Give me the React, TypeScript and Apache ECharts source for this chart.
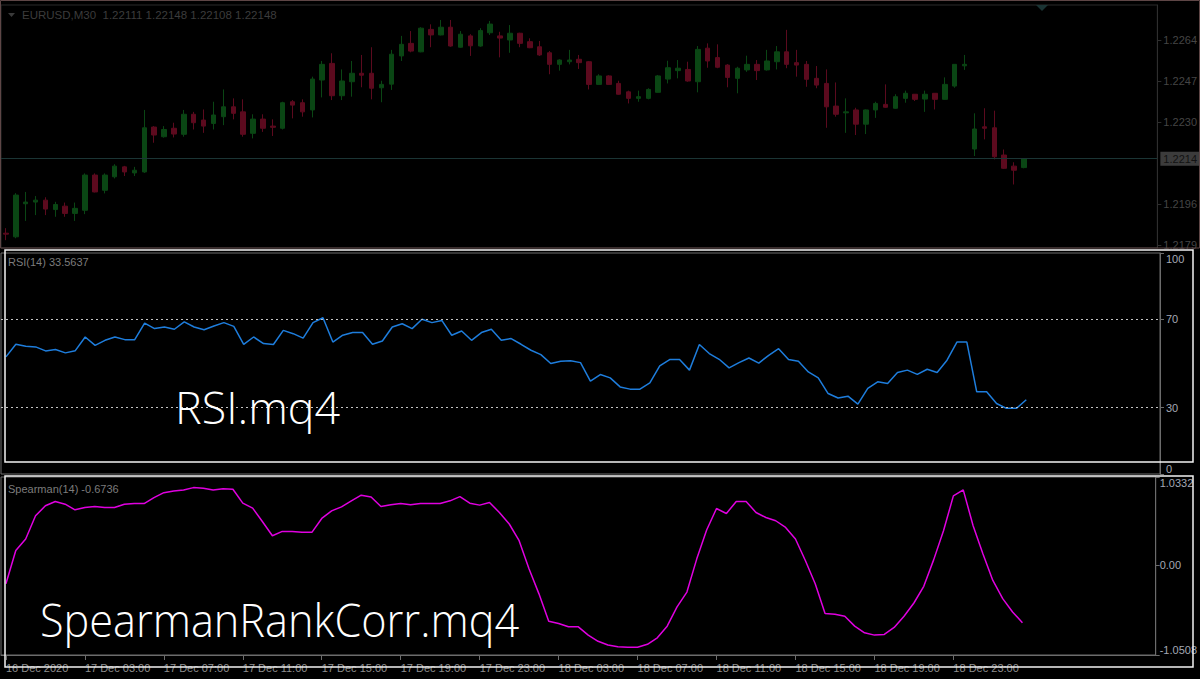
import React, { useEffect, useRef } from "react";
import * as echarts from "echarts";

// ---- price bars (EURUSD M30) ----
const opens = [1.21839,1.21824,1.21961,1.21968,1.21976,1.21937,1.21951,1.21921,1.21934,1.22080,1.22017,1.22073,1.22114,1.22089,1.22093,1.22279,1.22239,1.22274,1.22249,1.22332,1.22308,1.22294,1.22322,1.22363,1.22342,1.22253,1.22312,1.22283,1.22274,1.22384,1.22380,1.22350,1.22474,1.22543,1.22409,1.22467,1.22502,1.22502,1.22442,1.22457,1.22574,1.22626,1.22591,1.22684,1.22661,1.22693,1.22610,1.22657,1.22615,1.22670,1.22657,1.22640,1.22668,1.22633,1.22612,1.22587,1.22539,1.22550,1.22560,1.22550,1.22456,1.22491,1.22460,1.22425,1.22398,1.22398,1.22423,1.22478,1.22513,1.22518,1.22467,1.22606,1.22567,1.22536,1.22481,1.22516,1.22539,1.22516,1.22550,1.22591,1.22546,1.22539,1.22481,1.22460,1.22366,1.22338,1.22350,1.22291,1.22350,1.22373,1.22357,1.22398,1.22415,1.22395,1.22419,1.22394,1.22449,1.22533,1.22188,1.22280,1.22276,1.22163,1.22117,1.22111];
const closes = [1.21835,1.21997,1.21968,1.21976,1.21939,1.21958,1.21921,1.21942,1.22080,1.22010,1.22080,1.22117,1.22093,1.22100,1.22276,1.22246,1.22269,1.22250,1.22332,1.22297,1.22283,1.22329,1.22363,1.22336,1.22249,1.22312,1.22274,1.22278,1.22380,1.22370,1.22342,1.22478,1.22539,1.22409,1.22470,1.22502,1.22494,1.22440,1.22456,1.22581,1.22622,1.22594,1.22689,1.22661,1.22693,1.22615,1.22664,1.22616,1.22679,1.22706,1.22648,1.22668,1.22626,1.22608,1.22578,1.22539,1.22557,1.22557,1.22546,1.22456,1.22491,1.22456,1.22415,1.22398,1.22405,1.22435,1.22491,1.22525,1.22523,1.22470,1.22601,1.22553,1.22527,1.22485,1.22523,1.22539,1.22513,1.22553,1.22591,1.22539,1.22536,1.22477,1.22453,1.22363,1.22332,1.22342,1.22291,1.22350,1.22377,1.22361,1.22405,1.22419,1.22394,1.22415,1.22394,1.22456,1.22539,1.22539,1.22271,1.22274,1.22156,1.22108,1.22100,1.22148];
const lows = [1.21810,1.21818,1.21890,1.21914,1.21914,1.21907,1.21907,1.21890,1.21918,1.22008,1.22004,1.22066,1.22076,1.22076,1.22089,1.22214,1.22235,1.22236,1.22239,1.22269,1.22255,1.22269,1.22287,1.22311,1.22239,1.22232,1.22259,1.22242,1.22269,1.22315,1.22322,1.22319,1.22402,1.22391,1.22391,1.22405,1.22444,1.22394,1.22382,1.22433,1.22553,1.22589,1.22589,1.22610,1.22659,1.22612,1.22608,1.22574,1.22612,1.22661,1.22568,1.22587,1.22610,1.22606,1.22574,1.22498,1.22513,1.22539,1.22520,1.22435,1.22455,1.22455,1.22413,1.22377,1.22384,1.22394,1.22422,1.22460,1.22481,1.22467,1.22423,1.22525,1.22523,1.22444,1.22419,1.22508,1.22474,1.22513,1.22518,1.22523,1.22488,1.22446,1.22440,1.22276,1.22322,1.22255,1.22246,1.22250,1.22317,1.22359,1.22355,1.22380,1.22387,1.22342,1.22352,1.22393,1.22442,1.22516,1.22159,1.22228,1.22145,1.22105,1.22041,1.22108];
const highs = [1.21860,1.22005,1.22010,1.21993,1.21988,1.21969,1.21966,1.21966,1.22087,1.22087,1.22087,1.22125,1.22118,1.22114,1.22350,1.22283,1.22283,1.22297,1.22350,1.22342,1.22352,1.22384,1.22435,1.22398,1.22394,1.22332,1.22332,1.22311,1.22384,1.22391,1.22394,1.22488,1.22553,1.22585,1.22518,1.22553,1.22578,1.22610,1.22471,1.22599,1.22657,1.22677,1.22693,1.22705,1.22723,1.22723,1.22677,1.22664,1.22689,1.22719,1.22674,1.22702,1.22670,1.22647,1.22636,1.22594,1.22560,1.22599,1.22578,1.22553,1.22498,1.22494,1.22471,1.22430,1.22430,1.22440,1.22495,1.22554,1.22557,1.22550,1.22615,1.22626,1.22622,1.22540,1.22529,1.22575,1.22557,1.22599,1.22615,1.22682,1.22599,1.22553,1.22532,1.22518,1.22464,1.22398,1.22359,1.22352,1.22384,1.22456,1.22415,1.22430,1.22416,1.22430,1.22420,1.22485,1.22540,1.22578,1.22336,1.22357,1.22347,1.22186,1.22133,1.22148];

// ---- indicators ----
const rsi = [53.0,58.7,57.8,57.5,55.7,56.3,54.8,55.8,62.0,58.2,60.5,62.0,60.8,60.8,68.3,65.8,66.5,65.5,68.8,66.5,65.3,67.0,68.5,66.8,58.7,62.0,59.0,58.6,65.0,63.5,61.5,68.5,70.7,59.7,62.8,64.0,64.0,58.7,60.2,66.5,68.0,65.8,70.0,68.5,69.5,62.8,64.7,60.5,64.0,65.5,60.5,61.3,58.7,56.0,54.0,50.0,51.0,51.2,50.4,42.0,45.0,43.5,39.4,38.4,38.4,41.2,48.9,51.8,51.8,47.0,58.6,54.5,51.9,48.0,50.4,52.5,50.2,53.7,56.7,51.8,51.0,46.2,43.5,36.4,34.4,35.2,31.6,38.7,41.7,41.0,45.9,47.0,45.1,47.4,45.9,51.5,59.7,59.7,37.2,37.2,31.9,29.7,29.7,33.6];
const spearman = [-0.216,0.172,0.308,0.579,0.696,0.746,0.715,0.649,0.676,0.687,0.676,0.676,0.715,0.722,0.722,0.792,0.850,0.870,0.882,0.909,0.902,0.882,0.897,0.890,0.727,0.669,0.509,0.346,0.396,0.396,0.385,0.385,0.548,0.637,0.684,0.754,0.820,0.800,0.687,0.707,0.722,0.707,0.722,0.722,0.722,0.754,0.804,0.727,0.704,0.734,0.618,0.483,0.288,-0.041,-0.332,-0.655,-0.682,-0.721,-0.721,-0.818,-0.890,-0.934,-0.954,-0.961,-0.961,-0.926,-0.849,-0.713,-0.488,-0.314,0.075,0.413,0.664,0.606,0.746,0.746,0.618,0.559,0.521,0.443,0.308,0.055,-0.216,-0.565,-0.573,-0.597,-0.713,-0.791,-0.818,-0.810,-0.728,-0.597,-0.442,-0.247,0.063,0.404,0.812,0.882,0.463,0.133,-0.178,-0.391,-0.547,-0.674];

// ---- axes / labels ----
const timeLabels = ["16 Dec 2020","17 Dec 03:00","17 Dec 07:00","17 Dec 11:00","17 Dec 15:00","17 Dec 19:00","17 Dec 23:00","18 Dec 03:00","18 Dec 07:00","18 Dec 11:00","18 Dec 15:00","18 Dec 19:00","18 Dec 23:00"];
const BARS_PER_LABEL = 8;
const SLOTS = 117; // bars plus the empty chart shift on the right
const priceTicks = [1.2179, 1.2196, 1.2230, 1.2247, 1.2264];
const priceRange = [1.217776, 1.227851];
const lastPrice = 1.22148;
const lastPriceLabel = "1.2214";
const rsiTicks = [0, 30, 70, 100];
const rsiLevels = [30, 70];
const spearTicks = [-1.0508, 0, 1.0332];

const headerText = "EURUSD,M30  1.22111 1.22148 1.22108 1.22148";
const rsiTitle = "RSI(14) 33.5637";
const spearTitle = "Spearman(14) -0.6736";
const rsiNote = "RSI.mq4";
const spearNote = "SpearmanRankCorr.mq4";

const FONT = "'Liberation Sans', Arial, sans-serif";
const HAND = "'Open Sans', 'Noto Sans', sans-serif";

export default function App() {
  const ref = useRef<HTMLDivElement>(null);

  useEffect(() => {
    if (!ref.current) return;
    const chart = echarts.init(ref.current, undefined, { renderer: "svg" });
    const cats = Array.from({ length: SLOTS }, (_, i) => String(i));
    const candleData = opens.map((o, i) => [o, closes[i], lows[i], highs[i]]);
    const showLabel = (idx: number) =>
      idx % BARS_PER_LABEL === 0 && idx / BARS_PER_LABEL < timeLabels.length;

    const xAxes = [0, 1, 2].map((g) => ({
      type: "category",
      gridIndex: g,
      data: cats,
      boundaryGap: true,
      show: g === 2,
      axisLine: { show: true, onZero: false, lineStyle: { color: "#6c6c6c", width: 1 } },
      axisTick: {
        show: true,
        alignWithLabel: true,
        interval: (idx: number) => showLabel(idx),
        length: 5,
        lineStyle: { color: "#6c6c6c" },
      },
      axisLabel: {
        show: true,
        interval: (idx: number) => showLabel(idx),
        formatter: (v: string) => timeLabels[Number(v) / BARS_PER_LABEL] ?? "",
        align: "left",
        color: "#8e8e8e",
        fontSize: 11,
        fontFamily: FONT,
        margin: 7,
      },
      splitLine: { show: false },
    }));

    const option: any = {
      animation: false,
      backgroundColor: "#000000",
      grid: [
        { left: 1, right: 40, top: 5, height: 243, show: true, borderColor: "#2a2a2a", borderWidth: 1, backgroundColor: "transparent" },
        { left: 1, right: 40, top: 253, height: 221, show: true, borderColor: "#6c6c6c", borderWidth: 1, backgroundColor: "transparent" },
        { left: 1, right: 40, top: 477, height: 178, show: true, borderColor: "#6c6c6c", borderWidth: 1, backgroundColor: "transparent" },
      ],
      xAxis: xAxes,
      yAxis: [
        {
          type: "value",
          gridIndex: 0,
          position: "right",
          min: priceRange[0],
          max: priceRange[1],
          axisLine: { show: true, lineStyle: { color: "#2e2e2e" } },
          axisTick: { show: true, customValues: priceTicks, length: 4, lineStyle: { color: "#2e2e2e" } },
          axisLabel: { customValues: priceTicks, formatter: (v: number) => v.toFixed(4), color: "#454545", fontSize: 11, fontFamily: FONT, margin: 6 },
          splitLine: { show: false },
        },
        {
          type: "value",
          gridIndex: 1,
          position: "right",
          min: 0,
          max: 100,
          axisLine: { show: true, lineStyle: { color: "#6c6c6c" } },
          axisTick: { show: true, customValues: rsiTicks, length: 4, lineStyle: { color: "#6c6c6c" } },
          axisLabel: {
            customValues: rsiTicks,
            formatter: (v: number) => String(v),
            color: "#a4a8b4",
            fontSize: 11,
            fontFamily: FONT,
            margin: 6,
            verticalAlignMinLabel: "bottom",
            verticalAlignMaxLabel: "top",
          },
          splitLine: { show: false },
        },
        {
          type: "value",
          gridIndex: 2,
          position: "right",
          min: spearTicks[0],
          max: spearTicks[2],
          axisLine: { show: true, lineStyle: { color: "#6c6c6c" } },
          axisTick: { show: true, customValues: spearTicks, length: 4, lineStyle: { color: "#6c6c6c" } },
          axisLabel: {
            customValues: spearTicks,
            formatter: (v: number) => (v === 0 ? "0.00" : v.toFixed(4)),
            color: "#a4a8b4",
            fontSize: 11,
            fontFamily: FONT,
            margin: 4,
            verticalAlignMinLabel: "bottom",
            verticalAlignMaxLabel: "top",
          },
          splitLine: { show: false },
        },
      ],
      series: [
        {
          type: "candlestick",
          xAxisIndex: 0,
          yAxisIndex: 0,
          data: candleData,
          barWidth: 5,
          itemStyle: {
            color: "#0a4614",
            color0: "#5c0a1e",
            borderColor: "#0a4614",
            borderColor0: "#5c0a1e",
            borderWidth: 1,
          },
          markLine: {
            silent: true,
            precision: 5,
            symbol: ["none", "none"],
            lineStyle: { color: "#1b3535", type: "solid", width: 1 },
            label: {
              show: true,
              position: "end",
              distance: 3,
              formatter: lastPriceLabel,
              color: "#121212",
              backgroundColor: "#3c3c3c",
              padding: [2, 3, 1, 3],
              fontSize: 11,
              fontFamily: FONT,
            },
            data: [{ yAxis: lastPrice }],
          },
        },
        {
          type: "line",
          xAxisIndex: 1,
          yAxisIndex: 1,
          data: rsi,
          symbol: "none",
          showSymbol: false,
          lineStyle: { color: "#1e7ddc", width: 1.5 },
          markLine: {
            silent: true,
            precision: 2,
            symbol: ["none", "none"],
            label: { show: false },
            lineStyle: { color: "#c4c4c4", type: [2, 3], width: 1 },
            data: rsiLevels.map((v) => ({ yAxis: v })),
          },
        },
        {
          type: "line",
          xAxisIndex: 2,
          yAxisIndex: 2,
          data: spearman,
          symbol: "none",
          showSymbol: false,
          lineStyle: { color: "#e000e0", width: 1.5 },
        },
      ],
      graphic: [
        { type: "rect", z: 50, silent: true, shape: { x: 0.5, y: 0.5, width: 1199, height: 247.5 }, style: { fill: "none", stroke: "#5e4646", lineWidth: 1 } },
        { type: "polygon", z: 50, silent: true, shape: { points: [[8, 13], [15, 13], [11.5, 17]] }, style: { fill: "#3a3a3a" } },
        { type: "text", z: 50, silent: true, style: { text: headerText, x: 22, y: 15, fill: "#3c3c3c", font: `11.5px ${FONT}`, verticalAlign: "middle" } },
        { type: "polygon", z: 50, silent: true, shape: { points: [[1036, 5], [1048, 5], [1042, 11]] }, style: { fill: "#1a3434" } },
        { type: "text", z: 50, silent: true, style: { text: rsiTitle, x: 8, y: 262, fill: "#7c7c7c", font: `11px ${FONT}`, verticalAlign: "middle" } },
        { type: "text", z: 50, silent: true, style: { text: spearTitle, x: 8, y: 489, fill: "#7c7c7c", font: `11px ${FONT}`, verticalAlign: "middle" } },
        { type: "rect", z: 60, silent: true, shape: { x: 5, y: 250, width: 1188, height: 212 }, style: { fill: "none", stroke: "#f2f2f2", lineWidth: 1.5 } },
        { type: "rect", z: 60, silent: true, shape: { x: 5, y: 476, width: 1188, height: 191 }, style: { fill: "none", stroke: "#f2f2f2", lineWidth: 1.5 } },
        { type: "text", z: 60, silent: true, x: 175, y: 407, scaleX: 1.02, style: { text: rsiNote, x: 0, y: 0, fill: "#ffffff", font: `300 44px ${HAND}`, verticalAlign: "middle" } },
        { type: "text", z: 60, silent: true, x: 40, y: 619, scaleX: 0.94, style: { text: spearNote, x: 0, y: 0, fill: "#ffffff", font: `300 46px ${HAND}`, verticalAlign: "middle" } },
      ],
    };

    chart.setOption(option);
    return () => chart.dispose();
  }, []);

  return (
    <div
      ref={ref}
      style={{ position: "absolute", left: 0, top: 0, width: 1200, height: 679, background: "#000" }}
    />
  );
}
